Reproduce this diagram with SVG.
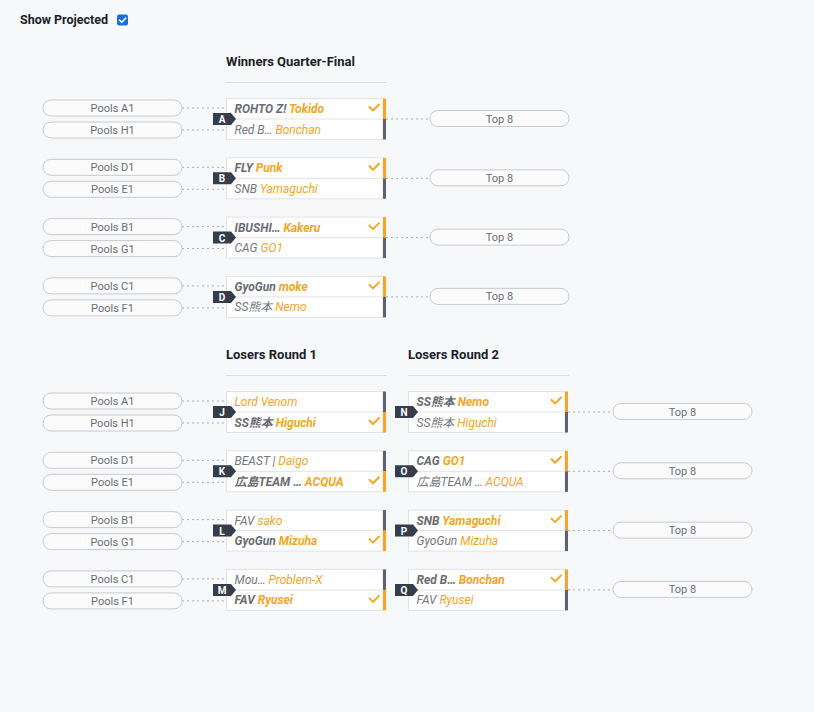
<svg xmlns="http://www.w3.org/2000/svg" width="814" height="712" viewBox="0 0 814 712">
<style>
text{font-family:Roboto,"Noto Sans CJK JP",sans-serif}
.hdr{font-size:13px;font-weight:700;fill:#1b1e28}
.rule{stroke:#dcdde0;stroke-width:1}
.pill{fill:#fbfbfc;stroke:#c9cacd;stroke-width:1}
.pt{font-size:11px;fill:#6b6d72;text-anchor:middle}
.dot{stroke:#a9abaf;stroke-width:1;stroke-dasharray:2 3;fill:none}
.box{fill:#fff;stroke:#e2e3e6;stroke-width:1}
.sep{stroke:#e2e3e6;stroke-width:1}
.won{fill:#f5a623}
.lost{fill:#5d626c}
.badge{fill:#353c4a}
.bt{font-size:10px;font-weight:700;fill:#fff;text-anchor:middle}
.w{font-size:12px;font-style:italic;font-weight:700;fill:#6a6c71}
.l{font-size:12px;font-style:italic;fill:#75777c}
.n{fill:#f5a623}
.ck{fill:none;stroke:#f5a623;stroke-width:2;stroke-linecap:round;stroke-linejoin:round}
</style>
<defs>
<g id="frame">
<rect class="box" x="0" y="0" width="156.5" height="41"/>
<line class="sep" x1="0" y1="20.5" x2="156.5" y2="20.5"/>
<path class="badge" d="M-13.5,14.5 h18 l5,6 l-5,6 h-18 z" transform="translate(0,-6) translate(0,6)"/>
</g>
<path id="ckT" class="ck" d="M143,8.5 l3.5,3.5 l6,-6"/>
<path id="ckB" class="ck" d="M143,29 l3.5,3.5 l6,-6"/>
</defs>
<rect width="814" height="712" fill="#f7f8fa"/>

<text x="20" y="24" class="hdr" style="font-size:12.5px">Show Projected</text>
<rect x="117" y="14.5" width="11" height="11" rx="2" fill="#1a6fe0"/>
<path d="M119.5,20 l2.3,2.3 l4,-4.3" fill="none" stroke="#fff" stroke-width="1.6" stroke-linecap="round" stroke-linejoin="round"/>

<g id="headers">
<text x="226" y="66" class="hdr">Winners Quarter-Final</text>
<line class="rule" x1="226" y1="82.5" x2="387" y2="82.5"/>
<text x="226" y="359" class="hdr">Losers Round 1</text>
<line class="rule" x1="226" y1="375.5" x2="387" y2="375.5"/>
<text x="408" y="359" class="hdr">Losers Round 2</text>
<line class="rule" x1="408" y1="375.5" x2="569" y2="375.5"/>
</g>

<g id="connectors">
<line class="dot" x1="182" y1="108" x2="226" y2="108"/><line class="dot" x1="182" y1="130" x2="226" y2="130"/><line class="dot" x1="386" y1="119" x2="430" y2="119"/>
<line class="dot" x1="182" y1="167.3" x2="226" y2="167.3"/><line class="dot" x1="182" y1="189.3" x2="226" y2="189.3"/><line class="dot" x1="386" y1="178.3" x2="430" y2="178.3"/>
<line class="dot" x1="182" y1="226.6" x2="226" y2="226.6"/><line class="dot" x1="182" y1="248.6" x2="226" y2="248.6"/><line class="dot" x1="386" y1="237.6" x2="430" y2="237.6"/>
<line class="dot" x1="182" y1="285.9" x2="226" y2="285.9"/><line class="dot" x1="182" y1="307.9" x2="226" y2="307.9"/><line class="dot" x1="386" y1="296.9" x2="430" y2="296.9"/>
<line class="dot" x1="182" y1="401" x2="226" y2="401"/><line class="dot" x1="182" y1="423" x2="226" y2="423"/><line class="dot" x1="568" y1="412" x2="613" y2="412"/>
<line class="dot" x1="182" y1="460.3" x2="226" y2="460.3"/><line class="dot" x1="182" y1="482.3" x2="226" y2="482.3"/><line class="dot" x1="568" y1="471.3" x2="613" y2="471.3"/>
<line class="dot" x1="182" y1="519.6" x2="226" y2="519.6"/><line class="dot" x1="182" y1="541.6" x2="226" y2="541.6"/><line class="dot" x1="568" y1="530.6" x2="613" y2="530.6"/>
<line class="dot" x1="182" y1="578.9" x2="226" y2="578.9"/><line class="dot" x1="182" y1="600.9" x2="226" y2="600.9"/><line class="dot" x1="568" y1="589.9" x2="613" y2="589.9"/>
</g>

<g id="pools">
<rect class="pill" x="43" y="100" width="139" height="16" rx="8"/><text class="pt" x="112.5" y="112">Pools A1</text>
<rect class="pill" x="43" y="122" width="139" height="16" rx="8"/><text class="pt" x="112.5" y="134">Pools H1</text>
<rect class="pill" x="43" y="159.3" width="139" height="16" rx="8"/><text class="pt" x="112.5" y="171.3">Pools D1</text>
<rect class="pill" x="43" y="181.3" width="139" height="16" rx="8"/><text class="pt" x="112.5" y="193.3">Pools E1</text>
<rect class="pill" x="43" y="218.6" width="139" height="16" rx="8"/><text class="pt" x="112.5" y="230.6">Pools B1</text>
<rect class="pill" x="43" y="240.6" width="139" height="16" rx="8"/><text class="pt" x="112.5" y="252.6">Pools G1</text>
<rect class="pill" x="43" y="277.9" width="139" height="16" rx="8"/><text class="pt" x="112.5" y="289.9">Pools C1</text>
<rect class="pill" x="43" y="299.9" width="139" height="16" rx="8"/><text class="pt" x="112.5" y="311.9">Pools F1</text>
<rect class="pill" x="43" y="393" width="139" height="16" rx="8"/><text class="pt" x="112.5" y="405">Pools A1</text>
<rect class="pill" x="43" y="415" width="139" height="16" rx="8"/><text class="pt" x="112.5" y="427">Pools H1</text>
<rect class="pill" x="43" y="452.3" width="139" height="16" rx="8"/><text class="pt" x="112.5" y="464.3">Pools D1</text>
<rect class="pill" x="43" y="474.3" width="139" height="16" rx="8"/><text class="pt" x="112.5" y="486.3">Pools E1</text>
<rect class="pill" x="43" y="511.6" width="139" height="16" rx="8"/><text class="pt" x="112.5" y="523.6">Pools B1</text>
<rect class="pill" x="43" y="533.6" width="139" height="16" rx="8"/><text class="pt" x="112.5" y="545.6">Pools G1</text>
<rect class="pill" x="43" y="570.9" width="139" height="16" rx="8"/><text class="pt" x="112.5" y="582.9">Pools C1</text>
<rect class="pill" x="43" y="592.9" width="139" height="16" rx="8"/><text class="pt" x="112.5" y="604.9">Pools F1</text>
</g>

<g id="top8">
<rect class="pill" x="430" y="110.5" width="139" height="16" rx="8"/><text class="pt" x="499.5" y="122.5">Top 8</text>
<rect class="pill" x="430" y="169.8" width="139" height="16" rx="8"/><text class="pt" x="499.5" y="181.8">Top 8</text>
<rect class="pill" x="430" y="229.1" width="139" height="16" rx="8"/><text class="pt" x="499.5" y="241.1">Top 8</text>
<rect class="pill" x="430" y="288.4" width="139" height="16" rx="8"/><text class="pt" x="499.5" y="300.4">Top 8</text>
<rect class="pill" x="613" y="403.5" width="139" height="16" rx="8"/><text class="pt" x="682.5" y="415.5">Top 8</text>
<rect class="pill" x="613" y="462.8" width="139" height="16" rx="8"/><text class="pt" x="682.5" y="474.8">Top 8</text>
<rect class="pill" x="613" y="522.1" width="139" height="16" rx="8"/><text class="pt" x="682.5" y="534.1">Top 8</text>
<rect class="pill" x="613" y="581.4" width="139" height="16" rx="8"/><text class="pt" x="682.5" y="593.4">Top 8</text>
</g>

<g id="match-A" transform="translate(226.5,98.5)"><use href="#frame"/><rect class="won" x="156.5" y="0" width="3" height="20.5"/><rect class="lost" x="156.5" y="20.5" width="3" height="20.5"/><text class="bt" x="-4.5" y="24.5">A</text>
<text class="w" x="8" y="14.5">ROHTO Z! <tspan class="n">Tokido</tspan></text><text class="l" x="8" y="35">Red B… <tspan class="n">Bonchan</tspan></text><use href="#ckT"/></g>
<g id="match-B" transform="translate(226.5,157.8)"><use href="#frame"/><rect class="won" x="156.5" y="0" width="3" height="20.5"/><rect class="lost" x="156.5" y="20.5" width="3" height="20.5"/><text class="bt" x="-4.5" y="24.5">B</text>
<text class="w" x="8" y="14.5">FLY <tspan class="n">Punk</tspan></text><text class="l" x="8" y="35">SNB <tspan class="n">Yamaguchi</tspan></text><use href="#ckT"/></g>
<g id="match-C" transform="translate(226.5,217.1)"><use href="#frame"/><rect class="won" x="156.5" y="0" width="3" height="20.5"/><rect class="lost" x="156.5" y="20.5" width="3" height="20.5"/><text class="bt" x="-4.5" y="24.5">C</text>
<text class="w" x="8" y="14.5">IBUSHI… <tspan class="n">Kakeru</tspan></text><text class="l" x="8" y="35">CAG <tspan class="n">GO1</tspan></text><use href="#ckT"/></g>
<g id="match-D" transform="translate(226.5,276.4)"><use href="#frame"/><rect class="won" x="156.5" y="0" width="3" height="20.5"/><rect class="lost" x="156.5" y="20.5" width="3" height="20.5"/><text class="bt" x="-4.5" y="24.5">D</text>
<text class="w" x="8" y="14.5">GyoGun <tspan class="n">moke</tspan></text><text class="l" x="8" y="35">SS熊本 <tspan class="n">Nemo</tspan></text><use href="#ckT"/></g>

<g id="match-J" transform="translate(226.5,391.5)"><use href="#frame"/><rect class="lost" x="156.5" y="0" width="3" height="20.5"/><rect class="won" x="156.5" y="20.5" width="3" height="20.5"/><text class="bt" x="-4.5" y="24.5">J</text>
<text class="l" x="8" y="14.5"><tspan class="n">Lord Venom</tspan></text><text class="w" x="8" y="35">SS熊本 <tspan class="n">Higuchi</tspan></text><use href="#ckB"/></g>
<g id="match-K" transform="translate(226.5,450.8)"><use href="#frame"/><rect class="lost" x="156.5" y="0" width="3" height="20.5"/><rect class="won" x="156.5" y="20.5" width="3" height="20.5"/><text class="bt" x="-4.5" y="24.5">K</text>
<text class="l" x="8" y="14.5">BEAST | <tspan class="n">Daigo</tspan></text><text class="w" x="8" y="35">広島TEAM … <tspan class="n">ACQUA</tspan></text><use href="#ckB"/></g>
<g id="match-L" transform="translate(226.5,510.1)"><use href="#frame"/><rect class="lost" x="156.5" y="0" width="3" height="20.5"/><rect class="won" x="156.5" y="20.5" width="3" height="20.5"/><text class="bt" x="-4.5" y="24.5">L</text>
<text class="l" x="8" y="14.5">FAV <tspan class="n">sako</tspan></text><text class="w" x="8" y="35">GyoGun <tspan class="n">Mizuha</tspan></text><use href="#ckB"/></g>
<g id="match-M" transform="translate(226.5,569.4)"><use href="#frame"/><rect class="lost" x="156.5" y="0" width="3" height="20.5"/><rect class="won" x="156.5" y="20.5" width="3" height="20.5"/><text class="bt" x="-4.5" y="24.5">M</text>
<text class="l" x="8" y="14.5">Mou… <tspan class="n">Problem-X</tspan></text><text class="w" x="8" y="35">FAV <tspan class="n">Ryusei</tspan></text><use href="#ckB"/></g>

<g id="match-N" transform="translate(408.5,391.5)"><use href="#frame"/><rect class="won" x="156.5" y="0" width="3" height="20.5"/><rect class="lost" x="156.5" y="20.5" width="3" height="20.5"/><text class="bt" x="-4.5" y="24.5">N</text>
<text class="w" x="8" y="14.5">SS熊本 <tspan class="n">Nemo</tspan></text><text class="l" x="8" y="35">SS熊本 <tspan class="n">Higuchi</tspan></text><use href="#ckT"/></g>
<g id="match-O" transform="translate(408.5,450.8)"><use href="#frame"/><rect class="won" x="156.5" y="0" width="3" height="20.5"/><rect class="lost" x="156.5" y="20.5" width="3" height="20.5"/><text class="bt" x="-4.5" y="24.5">O</text>
<text class="w" x="8" y="14.5">CAG <tspan class="n">GO1</tspan></text><text class="l" x="8" y="35">広島TEAM … <tspan class="n">ACQUA</tspan></text><use href="#ckT"/></g>
<g id="match-P" transform="translate(408.5,510.1)"><use href="#frame"/><rect class="won" x="156.5" y="0" width="3" height="20.5"/><rect class="lost" x="156.5" y="20.5" width="3" height="20.5"/><text class="bt" x="-4.5" y="24.5">P</text>
<text class="w" x="8" y="14.5">SNB <tspan class="n">Yamaguchi</tspan></text><text class="l" x="8" y="35">GyoGun <tspan class="n">Mizuha</tspan></text><use href="#ckT"/></g>
<g id="match-Q" transform="translate(408.5,569.4)"><use href="#frame"/><rect class="won" x="156.5" y="0" width="3" height="20.5"/><rect class="lost" x="156.5" y="20.5" width="3" height="20.5"/><text class="bt" x="-4.5" y="24.5">Q</text>
<text class="w" x="8" y="14.5">Red B… <tspan class="n">Bonchan</tspan></text><text class="l" x="8" y="35">FAV <tspan class="n">Ryusei</tspan></text><use href="#ckT"/></g>
</svg>
